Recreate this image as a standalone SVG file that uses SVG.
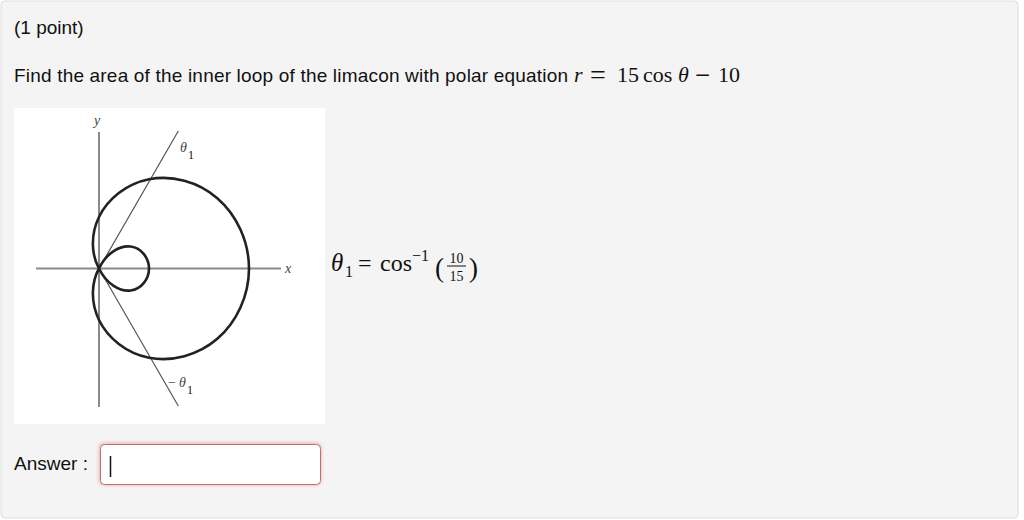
<svg xmlns="http://www.w3.org/2000/svg" width="1024" height="520" viewBox="0 0 1024 520">
  <defs>
    <style>
      .ui { font-family: "Liberation Sans", Arial, sans-serif; font-size: 19px; fill: #111; }
      .m { font-family: "Liberation Serif", "Times New Roman", serif; fill: #111; }
      .lbl { font-family: "Liberation Serif", "Times New Roman", serif; font-style: italic; fill: #444; }
      .axis { stroke: #8a8a8a; stroke-width: 2; fill: none; }
      .ray { stroke: #555; stroke-width: 1.2; fill: none; }
      .curve { stroke: #222; stroke-width: 2.6; fill: none; stroke-linejoin: round; }
    </style>
    <filter id="glow" x="-10%" y="-30%" width="120%" height="160%">
      <feGaussianBlur stdDeviation="1.5"/>
    </filter>
  </defs>

  <rect x="0" y="0" width="1024" height="520" fill="#ffffff"/>
  <rect id="panel" x="1" y="1" width="1017" height="517" rx="4" fill="#f4f4f4" stroke="#dcdcdc" stroke-width="1"/>

  <g id="header">
    <text class="ui" x="14" y="34">(1 point)</text>
    <text class="ui" x="14" y="82" textLength="554" lengthAdjust="spacing">Find the area of the inner loop of the limacon with polar equation</text>
    <text class="m" font-size="22" y="82"><tspan x="574" font-style="italic">r</tspan><tspan x="590" y="83.5" font-size="28">=</tspan><tspan x="617" y="82">15</tspan><tspan x="643">cos</tspan><tspan x="678" font-style="italic">θ</tspan><tspan x="695" y="83.5" font-size="27">−</tspan><tspan x="718" y="82">10</tspan></text>
  </g>

  <g id="figure">
    <rect x="14" y="108" width="311" height="316" fill="#ffffff"/>
    <g id="axes">
      <line class="axis" x1="99" y1="132" x2="99" y2="407"/>
      <line class="axis" x1="36" y1="268.5" x2="281" y2="268.5"/>
      <text class="lbl" x="94" y="125" font-size="14">y</text>
      <text class="lbl" x="285" y="273" font-size="14">x</text>
    </g>
    <g id="connectors">
      <line class="ray" x1="99" y1="268.5" x2="178.3" y2="131"/>
      <line class="ray" x1="99" y1="268.5" x2="178.3" y2="406"/>
    </g>
    <g id="limacon">
      <path class="curve" d="M149,268.5 C149,258.02 141.45,247.94 130.70,246.54 C119.95,245.14 106.56,252.79 99,268.5 C91.44,281.98 90.27,302.03 99,320 C107.73,337.97 126.33,353.21 149,357.7 C171.67,362.19 197.82,355.62 217.30,338.85 C236.78,322.08 249,295.47 249,268.5 C249,241.53 236.78,214.92 217.30,198.15 C197.82,181.38 171.67,174.81 149,179.3 C126.33,183.79 107.73,199.03 99,217 C90.27,234.97 91.44,255.02 99,268.5 C106.56,284.21 119.95,291.86 130.70,290.46 C141.45,289.06 149,278.98 149,268.5 Z"/>
    </g>
    <g id="label-theta1">
      <text class="lbl" x="180" y="152" font-size="14">θ</text>
      <text class="m" x="188" y="159" font-size="12" fill="#333">1</text>
    </g>
    <g id="label-neg-theta1">
      <text class="lbl" x="167" y="387" font-size="14" font-style="normal">−</text>
      <text class="lbl" x="179" y="387" font-size="14">θ</text>
      <text class="m" x="187" y="394" font-size="12" fill="#333">1</text>
    </g>
  </g>

  <g id="formula">
    <text class="m" x="331" y="271" font-size="25" font-style="italic">θ</text>
    <text class="m" x="345" y="277" font-size="16">1</text>
    <text class="m" x="358" y="271" font-size="24">=</text>
    <text class="m" x="380" y="271" font-size="24">cos</text>
    <text class="m" x="412" y="261" font-size="16">−1</text>
    <text class="m" x="435" y="277" font-size="27">(</text>
    <text class="m" x="456.5" y="263" font-size="14" text-anchor="middle">10</text>
    <line x1="447" y1="266" x2="466" y2="266" stroke="#111" stroke-width="1"/>
    <text class="m" x="456.5" y="281" font-size="14" text-anchor="middle">15</text>
    <text class="m" x="469" y="277" font-size="27">)</text>
  </g>

  <g id="answer">
    <text class="ui" x="14" y="470">Answer :</text>
    <rect x="100" y="444" width="220" height="40" rx="4" fill="none" stroke="#e08080" stroke-width="3" opacity="0.5" filter="url(#glow)"/>
    <rect x="100.5" y="444.5" width="220" height="40" rx="4" fill="#ffffff" stroke="#c96a6a" stroke-width="1"/>
    <line x1="110.5" y1="456" x2="110.5" y2="477" stroke="#111" stroke-width="1.5"/>
  </g>
</svg>
